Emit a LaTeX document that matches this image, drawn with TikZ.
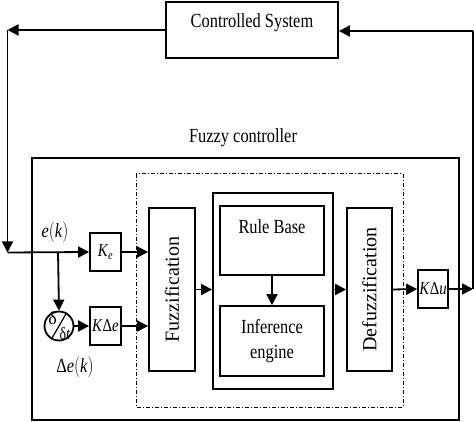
\documentclass[tikz,border=0pt]{standalone}
\usepackage{fontspec}
\setmainfont{Liberation Serif}
\usetikzlibrary{arrows.meta}
\newcommand{\sq}[1]{\scalebox{0.82}[1]{#1}}

\begin{document}
\begin{tikzpicture}[x=1pt,y=-1pt,
  box/.style={draw,line width=1.8pt,inner sep=0pt},
  arr/.style={-{Triangle[length=11pt,width=11pt]},line width=1.8pt},
  wire/.style={line width=1.8pt},
  big/.style={font=\fontsize{20}{25}\selectfont},
  gain/.style={font=\fontsize{18}{20}\selectfont}]
  \useasboundingbox (0,0) rectangle (474,422);

  % plant
  \node[box,minimum width=172pt,minimum height=56pt] (cs) at (252,30) {};
  \node[big] (cstxt) at (252,23) {\sq{Controlled System}};

  % controller frames
  \draw[line width=1.8pt] (32,158) rectangle (459,420);
  \node[big] (fctxt) at (243,138) {\sq{Fuzzy controller}};
  \draw[line width=1pt,dash pattern=on 4pt off 2pt on 1pt off 2pt] (136,174) rectangle (403,407);

  % blocks
  \node[box,rotate=90,minimum width=163pt,minimum height=46pt,big] (fuzz) at (172,289.5) {Fuzzification};
  \node[box,minimum width=120pt,minimum height=196pt] (rules) at (273,291) {};
  \node[box,minimum width=104pt,minimum height=69pt] (rb) at (272,240.5) {};
  \node[big] (rbtxt) at (272,227) {\sq{Rule Base}};
  \node[box,minimum width=104pt,minimum height=70pt,big,align=center] (ie) at (272,341) {\sq{Inference}\\\sq{engine}};
  \node[box,rotate=90,minimum width=163pt,minimum height=45pt,big] (defuzz) at (369.5,289.5) {Defuzzification};

  % gains
  \node[box,minimum width=31pt,minimum height=38pt,gain] (ke) at (105.5,252) {\sq{\textit{K}\textsubscript{\textit{e}}}};
  \node[box,minimum width=31pt,minimum height=38pt,gain] (kde) at (105.5,326) {\sq{\textit{K}Δ\textit{e}}};
  \node[box,minimum width=30pt,minimum height=38pt,gain] (kdu) at (433,289) {\sq{\textit{K}Δ\textit{u}}};

  % derivative
  \node[draw,circle,line width=1.8pt,minimum size=29pt,inner sep=0pt] (dt) at (59,326) {};
  \draw[line width=1.2pt] (dt.60) -- (dt.240);
  \node[font=\fontsize{18}{18}\selectfont] (dtop) at (52.5,318) {δ};
  \node[font=\fontsize{17}{17}\selectfont] (dbot) at (65,334) {\sq{δ\textit{t}}};

  % signal labels
  \node[big] (ek) at (55,232) {\sq{\textit{e}$\big($\textit{k}$\big)$}};
  \node[big] (dek) at (75,367) {\sq{Δ\textit{e}$\big($\textit{k}$\big)$}};

  % feedback loop
  \coordinate (tl) at (7.5,30);
  \coordinate (bl) at (7.5,252.5);
  \coordinate (br) at (58,252);
  \coordinate (rt) at (473,31);
  \coordinate (rb1) at (473,289);
  \draw[arr] (cs.west) -- (tl);
  \draw[arr] (tl) -- (bl);
  \draw[arr] (bl) -- (ke.west);
  \draw[arr] (br) -- (dt.north);
  \draw[arr] (ke.east) -- (ke.east -| fuzz.north);
  \draw[arr] (dt.east) -- (kde.west);
  \draw[arr] (kde.east) -- (kde.east -| fuzz.north);
  \draw[arr] (fuzz.south) -- (fuzz.south -| rules.west);
  \draw[arr] (rb.south) -- (ie.north);
  \draw[arr] (rules.east |- defuzz.north) -- (defuzz.north);
  \draw[arr] (defuzz.south) -- (kdu.west);
  \draw[arr] (kdu.east) -- (rb1);
  \draw[wire] (rb1) -- (rt);
  \draw[arr] (rt) -- (cs.east |- rt);
\end{tikzpicture}
\end{document}
